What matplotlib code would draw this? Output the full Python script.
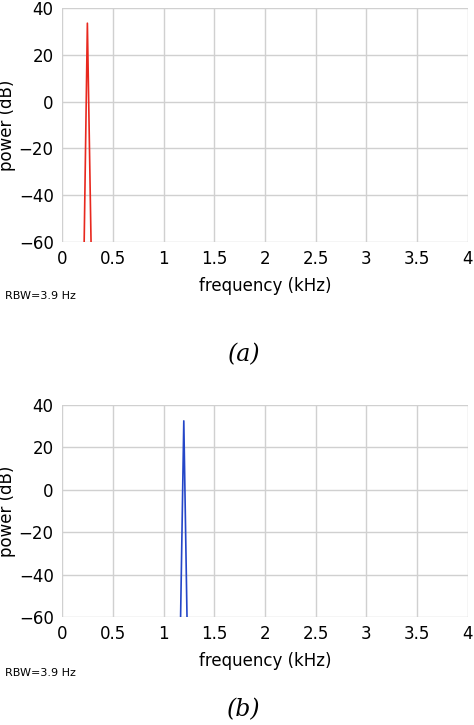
import matplotlib
matplotlib.use("Agg")
import matplotlib.pyplot as plt

freq_a = [0.215, 0.25, 0.29]
pow_a = [-70, 33.5, -70]
freq_b = [1.165, 1.2, 1.235]
pow_b = [-70, 32.5, -70]
xticks = [0, 0.5, 1, 1.5, 2, 2.5, 3, 3.5, 4]
xticklabels = ["0", "0.5", "1", "1.5", "2", "2.5", "3", "3.5", "4"]
yticks = [-60, -40, -20, 0, 20, 40]

fig = plt.figure(figsize=(4.74, 7.25), dpi=100)
W, H = 474, 725

def make(ax_box, x, y, color, label, rbw_y, lab_y):
    l, t, r, b = ax_box
    ax = fig.add_axes([l / W, 1 - b / H, (r - l) / W, (b - t) / H])
    ax.plot(x, y, color=color, lw=1.2)
    ax.set_xlim(0, 4)
    ax.set_ylim(-60, 40)
    ax.set_xticks(xticks)
    ax.set_xticklabels(xticklabels)
    ax.set_yticks(yticks)
    ax.grid(True, color="#d0d0d0", lw=1)
    ax.tick_params(labelsize=12, length=0, pad=6)
    for s in ax.spines.values():
        s.set_visible(False)
    ax.set_xlabel("frequency (kHz)", fontsize=12, labelpad=6)
    ax.set_ylabel("power (dB)", fontsize=12, labelpad=2)
    fig.text(5 / W, 1 - rbw_y / H, "RBW=3.9 Hz", fontsize=8, va="center")
    fig.text(0.515, 1 - lab_y / H, label, fontsize=17, family="DejaVu Serif",
             style="italic", ha="center", va="center")
    return ax

make((62, 8, 468, 242), freq_a, pow_a, "#e8281e", "(a)", 296, 355)
make((62, 405, 468, 617), freq_b, pow_b, "#2446c8", "(b)", 673, 710)

fig.savefig("out.png", dpi=100)
